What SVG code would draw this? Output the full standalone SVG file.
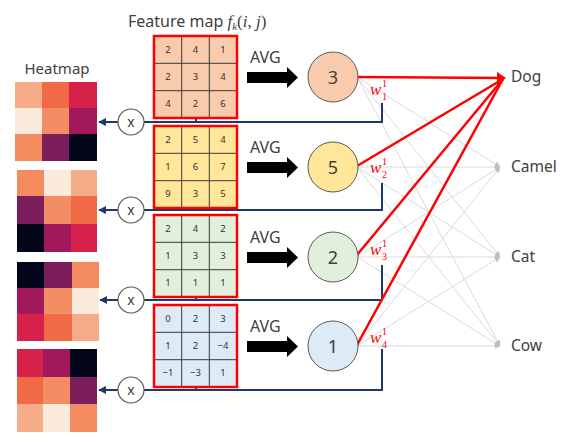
<svg xmlns="http://www.w3.org/2000/svg" width="567" height="444" viewBox="0 0 567 444">
<defs>
<style>
.t{font-family:"Noto Sans","Open Sans","DejaVu Sans",sans-serif;fill:#404040}
.cell{font-family:"Noto Sans","DejaVu Sans",sans-serif;font-size:9.5px;fill:#333;text-anchor:middle}
.grid{stroke:#3a3a3a;stroke-width:1;fill:none}
.fm{stroke:#FF0000;stroke-width:2.5;fill:none}
.blue{stroke:#1F3864;stroke-width:2;fill:none}
.gray{stroke:#D9D9D9;stroke-width:1;fill:none}
.red{stroke:#FF0000;stroke-width:2.5;fill:none}
.node{stroke:#595959;stroke-width:1}
.xc{fill:#fff;stroke:#595959;stroke-width:1.2}
.w{font-family:"Liberation Serif","DejaVu Serif",serif;font-style:italic;fill:#FF0000;font-size:17px}
.ws{font-family:"Liberation Serif","DejaVu Serif",serif;fill:#FF0000;font-size:10px}
</style>
<marker id="ab" viewBox="0 0 10 10" refX="9" refY="5" markerWidth="4" markerHeight="4" orient="auto"><path d="M0,0L10,5L0,10z" fill="#1F3864"/></marker>
<marker id="ag" viewBox="0 0 10 10" refX="9" refY="5" markerWidth="6" markerHeight="6" orient="auto" markerUnits="userSpaceOnUse"><path d="M0,0L10,5L0,10z" fill="#BFBFBF"/></marker>
</defs>
<rect width="567" height="444" fill="#fff"/>

<text class="t" x="128" y="27" font-size="16">Feature map <tspan font-family="Liberation Serif,serif" font-style="italic" font-size="17">f</tspan><tspan font-family="Liberation Serif,serif" font-style="italic" font-size="11" dy="3">k</tspan><tspan font-family="Liberation Serif,serif" font-size="17" dy="-3">(<tspan font-style="italic">i</tspan>, <tspan font-style="italic">j</tspan>)</tspan></text>
<text class="t" x="57" y="74" font-size="15" text-anchor="middle">Heatmap</text>

<g id="connectors">
<g class="gray" marker-end="url(#ag)">
<path d="M357,77L500,167"/><path d="M357,77L500,257"/><path d="M357,77L500,346"/>
<path d="M357,167L500,167"/><path d="M357,167L500,257"/><path d="M357,167L500,346"/>
<path d="M357,257L500,167"/><path d="M357,257L500,257"/><path d="M357,257L500,346"/>
<path d="M357,346L500,167"/><path d="M357,346L500,257"/><path d="M357,346L500,346"/>
</g>
<path class="blue" d="M196,118V122M382,103V122H144"/>
<path class="blue" d="M196,208V210M382,183V210H144"/>
<path class="blue" d="M196,297V300M382,265V300H144"/>
<path class="blue" d="M196,387V390M382,349V390H144"/>
<path class="blue" d="M118,122H99" marker-end="url(#ab)"/>
<path class="blue" d="M118,210H99" marker-end="url(#ab)"/>
<path class="blue" d="M118,300H100" marker-end="url(#ab)"/>
<path class="blue" d="M118,390H99" marker-end="url(#ab)"/>
<path d="M247,72H287V67L298,77.5L287,88V83H247Z" fill="#000"/>
<path d="M247,162H287V157L298,167.5L287,178V173H247Z" fill="#000"/>
<path d="M247,252H287V247L298,257.5L287,268V263H247Z" fill="#000"/>
<path d="M247,341H287V336L298,346.5L287,357V352H247Z" fill="#000"/>
<g class="red">
<path d="M357,77L503,78"/>
<path d="M357,166L503,79"/>
<path d="M357,255L503,79"/>
<path d="M357,345L503,79"/>
</g>
<path d="M497,72L506,78L497,85Z" fill="#FF0000"/>
<circle class="xc" cx="131" cy="122" r="13"/>
<circle class="xc" cx="131" cy="210" r="13"/>
<circle class="xc" cx="131" cy="300" r="13"/>
<circle class="xc" cx="131" cy="390" r="13"/>
<g class="t" font-size="14" text-anchor="middle">
<text x="131" y="127">x</text><text x="131" y="215">x</text><text x="131" y="305">x</text><text x="131" y="395">x</text>
</g>
<g class="t" font-size="16">
<text x="250" y="63">AVG</text><text x="250" y="153">AVG</text><text x="250" y="243">AVG</text><text x="250" y="332">AVG</text>
</g>
</g>

<g id="heatmap1">
<rect x="15" y="82" width="28" height="27" fill="#F4AD88"/><rect x="42" y="82" width="28" height="27" fill="#F06B45"/><rect x="69" y="82" width="28" height="27" fill="#D6224A"/>
<rect x="15" y="108" width="28" height="27" fill="#FAEBDD"/><rect x="42" y="108" width="28" height="27" fill="#F38D64"/><rect x="69" y="108" width="28" height="27" fill="#A2185C"/>
<rect x="15" y="134" width="28" height="27" fill="#F38A60"/><rect x="42" y="134" width="28" height="27" fill="#7C1D5C"/><rect x="69" y="134" width="28" height="27" fill="#03051A"/>
</g>
<g id="heatmap2">
<rect x="17" y="170" width="28" height="27" fill="#F38A60"/><rect x="44" y="170" width="28" height="27" fill="#FAEBDD"/><rect x="71" y="170" width="26" height="27" fill="#F4AD88"/>
<rect x="17" y="196" width="28" height="29" fill="#7C1D5C"/><rect x="44" y="196" width="28" height="29" fill="#F38D64"/><rect x="71" y="196" width="26" height="29" fill="#F06B45"/>
<rect x="17" y="224" width="28" height="28" fill="#03051A"/><rect x="44" y="224" width="28" height="28" fill="#A2185C"/><rect x="71" y="224" width="26" height="28" fill="#D6224A"/>
</g>
<g id="heatmap3">
<rect x="17" y="262" width="28" height="27" fill="#03051A"/><rect x="44" y="262" width="29" height="27" fill="#7C1D5C"/><rect x="72" y="262" width="27" height="27" fill="#F38A60"/>
<rect x="17" y="288" width="28" height="27" fill="#A2185C"/><rect x="44" y="288" width="29" height="27" fill="#F38D64"/><rect x="72" y="288" width="27" height="27" fill="#FAEBDD"/>
<rect x="17" y="314" width="28" height="27" fill="#D6224A"/><rect x="44" y="314" width="29" height="27" fill="#F06B45"/><rect x="72" y="314" width="27" height="27" fill="#F4AD88"/>
</g>
<g id="heatmap4">
<rect x="17" y="349" width="27" height="29" fill="#D6224A"/><rect x="43" y="349" width="28" height="29" fill="#A2185C"/><rect x="70" y="349" width="27" height="29" fill="#03051A"/>
<rect x="17" y="377" width="27" height="28" fill="#F06B45"/><rect x="43" y="377" width="28" height="28" fill="#F38D64"/><rect x="70" y="377" width="27" height="28" fill="#7C1D5C"/>
<rect x="17" y="404" width="27" height="28" fill="#F4AD88"/><rect x="43" y="404" width="28" height="28" fill="#FAEBDD"/><rect x="70" y="404" width="27" height="28" fill="#F38A60"/>
</g>

<g id="featuremap1">
<rect x="154" y="36" width="83" height="82" fill="#F8CBAD"/>
<path class="grid" d="M181.7,36V118M209.3,36V118M154,63.3H237M154,90.7H237"/>
<rect class="fm" x="154" y="36" width="83" height="82"/>
<text class="cell" x="168" y="53">2</text><text class="cell" x="195.5" y="53">4</text><text class="cell" x="223" y="53">1</text>
<text class="cell" x="168" y="80">2</text><text class="cell" x="195.5" y="80">3</text><text class="cell" x="223" y="80">4</text>
<text class="cell" x="168" y="107">4</text><text class="cell" x="195.5" y="107">2</text><text class="cell" x="223" y="107">6</text>
</g>
<g id="featuremap2">
<rect x="154" y="126" width="83" height="82" fill="#FFE699"/>
<path class="grid" d="M181.7,126V208M209.3,126V208M154,153.3H237M154,180.7H237"/>
<rect class="fm" x="154" y="126" width="83" height="82"/>
<text class="cell" x="168" y="143">2</text><text class="cell" x="195.5" y="143">5</text><text class="cell" x="223" y="143">4</text>
<text class="cell" x="168" y="170">1</text><text class="cell" x="195.5" y="170">6</text><text class="cell" x="223" y="170">7</text>
<text class="cell" x="168" y="197">9</text><text class="cell" x="195.5" y="197">3</text><text class="cell" x="223" y="197">5</text>
</g>
<g id="featuremap3">
<rect x="154" y="215" width="83" height="82" fill="#E2EFDA"/>
<path class="grid" d="M181.7,215V297M209.3,215V297M154,242.3H237M154,269.7H237"/>
<rect class="fm" x="154" y="215" width="83" height="82"/>
<text class="cell" x="168" y="232">2</text><text class="cell" x="195.5" y="232">4</text><text class="cell" x="223" y="232">2</text>
<text class="cell" x="168" y="259">1</text><text class="cell" x="195.5" y="259">3</text><text class="cell" x="223" y="259">3</text>
<text class="cell" x="168" y="286">1</text><text class="cell" x="195.5" y="286">1</text><text class="cell" x="223" y="286">1</text>
</g>
<g id="featuremap4">
<rect x="154" y="305" width="83" height="82" fill="#DDEBF7"/>
<path class="grid" d="M181.7,305V387M209.3,305V387M154,332.3H237M154,359.7H237"/>
<rect class="fm" x="154" y="305" width="83" height="82"/>
<text class="cell" x="168" y="322">0</text><text class="cell" x="195.5" y="322">2</text><text class="cell" x="223" y="322">3</text>
<text class="cell" x="168" y="349">1</text><text class="cell" x="195.5" y="349">2</text><text class="cell" x="223" y="349">−4</text>
<text class="cell" x="168" y="376">−1</text><text class="cell" x="195.5" y="376">−3</text><text class="cell" x="223" y="376">1</text>
</g>

<g id="node1"><circle class="node" cx="333" cy="77" r="25" fill="#F8CBAD"/><text class="t" x="333" y="83.5" font-size="18" text-anchor="middle">3</text></g>
<g id="node2"><circle class="node" cx="333" cy="167" r="25" fill="#FFE699"/><text class="t" x="333" y="173.5" font-size="18" text-anchor="middle">5</text></g>
<g id="node3"><circle class="node" cx="333" cy="257" r="25" fill="#E2EFDA"/><text class="t" x="333" y="263.5" font-size="18" text-anchor="middle">2</text></g>
<g id="node4"><circle class="node" cx="333" cy="346" r="25" fill="#DDEBF7"/><text class="t" x="333" y="352.5" font-size="18" text-anchor="middle">1</text></g>

<g id="weights">
<text class="w" x="370" y="95">w</text><text class="ws" x="382" y="87">1</text><text class="ws" x="382" y="100">1</text>
<text class="w" x="370" y="173">w</text><text class="ws" x="382" y="165">1</text><text class="ws" x="382" y="178">2</text>
<text class="w" x="370" y="255">w</text><text class="ws" x="382" y="247">1</text><text class="ws" x="382" y="260">3</text>
<text class="w" x="370" y="343">w</text><text class="ws" x="382" y="335">1</text><text class="ws" x="382" y="348">4</text>
</g>

<g id="out-dog"><text class="t" x="511" y="82" font-size="15.5">Dog</text></g>
<g id="out-camel"><text class="t" x="511" y="172" font-size="15.5">Camel</text></g>
<g id="out-cat"><text class="t" x="511" y="262" font-size="15.5">Cat</text></g>
<g id="out-cow"><text class="t" x="511" y="351" font-size="15.5">Cow</text></g>
</svg>
